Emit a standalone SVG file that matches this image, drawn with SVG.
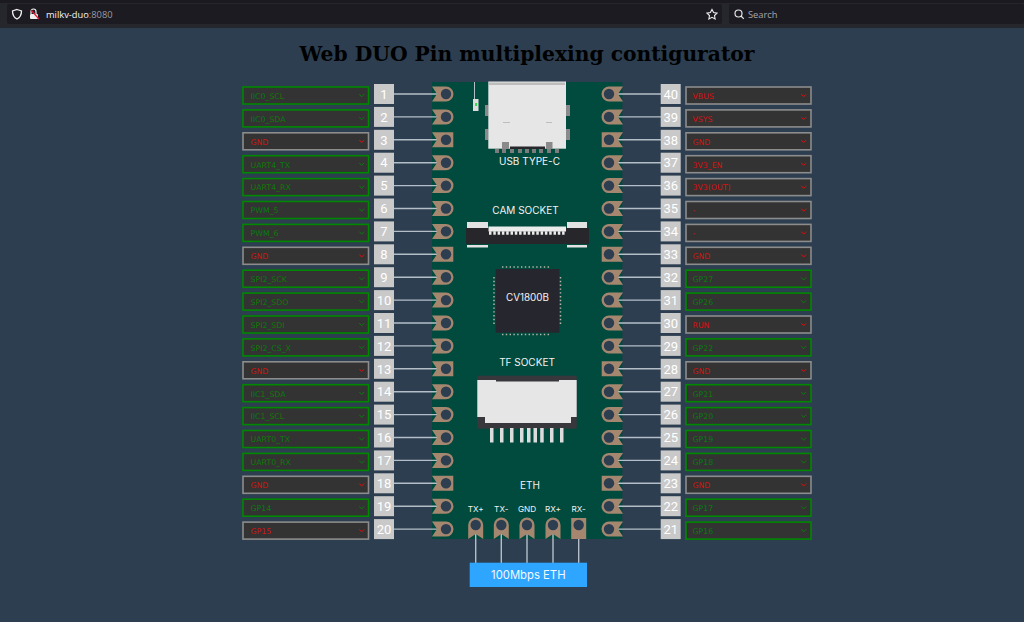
<svg xmlns="http://www.w3.org/2000/svg" width="1024" height="622" viewBox="0 0 1024 622">
<style>
text{font-family:"Inter","Liberation Sans",sans-serif}
.sel{fill:#333;stroke-width:1.6}
.ok{color:#0b7a0b}.ok .sel{stroke:#008800}
.bad{color:#dc0f0f}.bad .sel{stroke:#8c8c8c}
.st{font-family:"DejaVu Sans",sans-serif;font-size:7.8px;fill:currentColor}
.ch{fill:none;stroke:currentColor;stroke-width:1}
.num{fill:#c9c9c9}
.nt{font-family:"Roboto",sans-serif;font-size:13px;fill:#fff;text-anchor:middle}
.pad{fill:#a5866f}
.hole{fill:#2c3e50}
.lb{font-size:10px;fill:#f2f2f2;text-anchor:middle}
.sm{font-size:8.2px;fill:#f2f2f2;text-anchor:middle}
.w{stroke:#b4bec8;stroke-width:1.4;fill:none}
.gr{fill:#8a8a8a}
.dot{fill:none;stroke:#b9b6a8;stroke-width:1.5;stroke-dasharray:1.4 2.4}
.ui{font-family:"Open Sans",sans-serif;font-size:9.3px}
</style>
<defs>
<g id="L"><path class="pad" d="M432-7.500H446A7.500 7.500 0 0 1 446 7.500H432L437 0Z"/><circle class="hole" cx="446" r="5.200"/></g>
<g id="LS"><path class="pad" d="M432-7.500H453.300V7.500H432L437 0Z"/><circle class="hole" cx="446" r="5.200"/></g>
<g id="B"><path class="pad" d="M-7.500 539V525A7.500 7.500 0 0 1 7.500 525V539L0 534Z"/><circle class="hole" cy="525" r="5.200"/></g>
<path id="c" class="ch" d="M-2.400-1.300 0 1.300 2.400-1.300"/>
</defs>
<rect width="1024" height="622" fill="#2c3e50"/>
<g id="browser-bar">
<rect width="1024" height="28" fill="#26262d"/>
<rect width="1024" height="3" fill="#1a1a20"/>
<rect x="7" y="4" width="715" height="20" rx="2" fill="#1c1b22"/>
<rect x="729" y="4" width="295" height="20" rx="2" fill="#1c1b22"/>
<path d="M17 9.500 21.500 11C21.500 15 20 17.500 17 19 14 17.500 12.500 15 12.500 11Z" fill="none" stroke="#f0f0f0" stroke-width="1.300"/>
<path d="M31 14V11.500A2.500 2.500 0 0 1 36 11.500V14" fill="none" stroke="#f0f0f0" stroke-width="1.200"/>
<rect x="30" y="14" width="8" height="5" rx="1" fill="#f0f0f0"/>
<path d="M31 10 39 19" stroke="#e01b3c" stroke-width="1.300"/>
<text class="ui" x="46" y="18" fill="#f4f4f4">milkv-duo<tspan fill="#9a9aa2">:8080</tspan></text>
<path d="M712 9.500 713.600 12.600 717 13.100 714.500 15.500 715.100 18.900 712 17.300 708.900 18.900 709.500 15.500 707 13.100 710.400 12.600Z" fill="none" stroke="#f0f0f0" stroke-width="1.100"/>
<circle cx="738.500" cy="13.500" r="3.500" fill="none" stroke="#e6e6e6" stroke-width="1.200"/>
<path d="M741 16 743.800 18.800" stroke="#e6e6e6" stroke-width="1.200"/>
<text class="ui" x="748" y="18" fill="#a6a6ae">Search</text>
</g>
<text id="title" x="527" y="61" text-anchor="middle" style="font-family:'DejaVu Serif',serif;font-weight:700;font-size:20.260px" fill="#000">Web DUO Pin multiplexing contigurator</text>
<rect id="board" x="432" y="82" width="190.300" height="457" fill="#004a3e"/>
<g id="connectors" class="w">
<path d="M394 94H437M394 116.900H437M394 139.800H437M394 162.700H437M394 185.600H437M394 208.500H437M394 231.400H437M394 254.300H437M394 277.200H437M394 300.100H437M394 323H437M394 345.900H437M394 368.800H437M394 391.700H437M394 414.600H437M394 437.500H437M394 460.400H437M394 483.300H437M394 506.200H437M394 529.100H437"/>
<path d="M618 94H661M618 116.900H661M618 139.800H661M618 162.700H661M618 185.600H661M618 208.500H661M618 231.400H661M618 254.300H661M618 277.200H661M618 300.100H661M618 323H661M618 345.900H661M618 368.800H661M618 391.700H661M618 414.600H661M618 437.500H661M618 460.400H661M618 483.300H661M618 506.200H661M618 529.100H661"/>
<path d="M475.700 534V563M501.300 534V563M527 534V563M553 534V563M578.700 534V563"/>
<path d="M474.500 82V99" stroke-width="1"/>
</g>
<g id="usb-c">
<rect x="473" y="99" width="5.500" height="12" fill="#dcdcdc"/><rect x="475" y="103" width="2" height="3" fill="#2fe04a"/>
<rect x="485" y="105" width="3.500" height="11" class="gr"/><rect x="485" y="129" width="3.500" height="11" class="gr"/><rect x="566" y="105" width="4" height="11" class="gr"/><rect x="566" y="129" width="4" height="11" class="gr"/>
<path d="M495 149h4v4h-4zM502 149h4v4h-4zM510 149h4v4h-4zM518 149h4v4h-4zM525 149h4v4h-4zM532 149h4v4h-4zM539 149h4v4h-4zM547 149h4v4h-4zM555 149h4v4h-4z" fill="#7c7c7c"/>
<rect x="488.300" y="81.500" width="77.700" height="67.200" fill="#e6e6e6"/>
<rect x="489" y="82.500" width="76" height="2.500" fill="#bdbdbd"/>
<rect x="503" y="122" width="7" height="1" fill="#bdbdbd"/><rect x="546" y="122" width="6" height="1" fill="#bdbdbd"/>
<rect x="502" y="142" width="7" height="7" class="gr"/><rect x="546" y="142" width="6.500" height="7" class="gr"/>
<rect x="510" y="146.500" width="35" height="2.500" fill="#26262b"/>
<text class="lb" x="529.500" y="165">USB TYPE-C</text>
</g>
<g id="cam-socket">
<text class="lb" x="525.500" y="214">CAM SOCKET</text>
<rect x="466" y="228" width="123" height="16" fill="#26262b"/>
<path d="M467 222h21v6h-21zM567 222h20v6h-20zM467 245h21v2.500h-21zM567 245h20v2.500h-20z" fill="#e2e2e2"/>
<rect x="488.500" y="226.500" width="77.500" height="5" fill="#ececec"/>
<path d="M489 233H566" stroke="#ececec" stroke-width="3.500" stroke-dasharray="2.500 1.800"/>
</g>
<g id="chip">
<rect x="495.700" y="269" width="63.600" height="63.700" fill="#26262e"/>
<path class="dot" d="M502 267H551M502 334.500H551M494 277V324M560.500 277V324"/>
<text x="527.500" y="300.700" text-anchor="middle" font-size="9.900" fill="#f2f2f2">CV1800B</text>
</g>
<g id="tf-socket">
<text class="lb" x="527" y="365.700">TF SOCKET</text>
<rect x="477.300" y="375.700" width="99.400" height="53" fill="#38383c"/>
<path d="M477.300 380H496V381.500H559V380H576.700V417H571V423H485V417H477.300Z" fill="#e6e6e6"/>
<path d="M490 428h3.500v14.500h-3.500zM500 428h3.500v14.500h-3.500zM510 428h3.500v14.500h-3.500zM520 428h3.500v14.500h-3.500zM527 428h3.500v14.500h-3.500zM533.500 428h3.500v14.500h-3.500zM540.200 428h3.500v14.500h-3.500zM550 428h3.500v14.500h-3.500zM560 428h3.500v14.500h-3.500z" fill="#dcdcdc"/>
</g>
<text id="eth-label" class="lb" x="530" y="489">ETH</text>
<g id="eth-tx-p"><text class="sm" x="475.700" y="511.700">TX+</text><use href="#B" x="475.700"/></g>
<g id="eth-tx-n"><text class="sm" x="501.300" y="511.700">TX-</text><use href="#B" x="501.300"/></g>
<g id="eth-gnd"><text class="sm" x="527" y="511.700">GND</text><use href="#B" x="527"/></g>
<g id="eth-rx-p"><text class="sm" x="553" y="511.700">RX+</text><use href="#B" x="553"/></g>
<g id="eth-rx-n"><text class="sm" x="578.700" y="511.700">RX-</text><rect class="pad" x="571.200" y="518" width="15" height="21"/><circle class="hole" cx="578.700" cy="525" r="5.200"/></g>
<g id="eth-button"><rect x="469.700" y="562.700" width="117.300" height="24.300" fill="#2ea6ff"/><text x="528.300" y="579.300" text-anchor="middle" font-size="11.300" fill="#f4f8ff">100Mbps ETH</text></g>

<g id="pin-1" class="ok" transform="translate(0 94)"><rect class="sel" x="243" y="-7" width="125.500" height="17"/><text class="st" x="250.500" y="4.800">IIC0_SCL</text><use href="#c" x="361.700" y="1.500"/><rect class="num" x="374" y="-10" width="20" height="20"/><text class="nt" x="384" y="4.700">1</text><use href="#L"/></g>
<g id="pin-2" class="ok" transform="translate(0 116.900)"><rect class="sel" x="243" y="-7" width="125.500" height="17"/><text class="st" x="250.500" y="4.800">IIC0_SDA</text><use href="#c" x="361.700" y="1.500"/><rect class="num" x="374" y="-10" width="20" height="20"/><text class="nt" x="384" y="4.700">2</text><use href="#L"/></g>
<g id="pin-3" class="bad" transform="translate(0 139.800)"><rect class="sel" x="243" y="-7" width="125.500" height="17"/><text class="st" x="250.500" y="4.800">GND</text><use href="#c" x="361.700" y="1.500"/><rect class="num" x="374" y="-10" width="20" height="20"/><text class="nt" x="384" y="4.700">3</text><use href="#LS"/></g>
<g id="pin-4" class="ok" transform="translate(0 162.700)"><rect class="sel" x="243" y="-7" width="125.500" height="17"/><text class="st" x="250.500" y="4.800">UART4_TX</text><use href="#c" x="361.700" y="1.500"/><rect class="num" x="374" y="-10" width="20" height="20"/><text class="nt" x="384" y="4.700">4</text><use href="#L"/></g>
<g id="pin-5" class="ok" transform="translate(0 185.600)"><rect class="sel" x="243" y="-7" width="125.500" height="17"/><text class="st" x="250.500" y="4.800">UART4_RX</text><use href="#c" x="361.700" y="1.500"/><rect class="num" x="374" y="-10" width="20" height="20"/><text class="nt" x="384" y="4.700">5</text><use href="#L"/></g>
<g id="pin-6" class="ok" transform="translate(0 208.500)"><rect class="sel" x="243" y="-7" width="125.500" height="17"/><text class="st" x="250.500" y="4.800">PWM_5</text><use href="#c" x="361.700" y="1.500"/><rect class="num" x="374" y="-10" width="20" height="20"/><text class="nt" x="384" y="4.700">6</text><use href="#L"/></g>
<g id="pin-7" class="ok" transform="translate(0 231.400)"><rect class="sel" x="243" y="-7" width="125.500" height="17"/><text class="st" x="250.500" y="4.800">PWM_6</text><use href="#c" x="361.700" y="1.500"/><rect class="num" x="374" y="-10" width="20" height="20"/><text class="nt" x="384" y="4.700">7</text><use href="#L"/></g>
<g id="pin-8" class="bad" transform="translate(0 254.300)"><rect class="sel" x="243" y="-7" width="125.500" height="17"/><text class="st" x="250.500" y="4.800">GND</text><use href="#c" x="361.700" y="1.500"/><rect class="num" x="374" y="-10" width="20" height="20"/><text class="nt" x="384" y="4.700">8</text><use href="#LS"/></g>
<g id="pin-9" class="ok" transform="translate(0 277.200)"><rect class="sel" x="243" y="-7" width="125.500" height="17"/><text class="st" x="250.500" y="4.800">SPI2_SCK</text><use href="#c" x="361.700" y="1.500"/><rect class="num" x="374" y="-10" width="20" height="20"/><text class="nt" x="384" y="4.700">9</text><use href="#L"/></g>
<g id="pin-10" class="ok" transform="translate(0 300.100)"><rect class="sel" x="243" y="-7" width="125.500" height="17"/><text class="st" x="250.500" y="4.800">SPI2_SDO</text><use href="#c" x="361.700" y="1.500"/><rect class="num" x="374" y="-10" width="20" height="20"/><text class="nt" x="384" y="4.700">10</text><use href="#L"/></g>
<g id="pin-11" class="ok" transform="translate(0 323)"><rect class="sel" x="243" y="-7" width="125.500" height="17"/><text class="st" x="250.500" y="4.800">SPI2_SDI</text><use href="#c" x="361.700" y="1.500"/><rect class="num" x="374" y="-10" width="20" height="20"/><text class="nt" x="384" y="4.700">11</text><use href="#L"/></g>
<g id="pin-12" class="ok" transform="translate(0 345.900)"><rect class="sel" x="243" y="-7" width="125.500" height="17"/><text class="st" x="250.500" y="4.800">SPI2_CS_X</text><use href="#c" x="361.700" y="1.500"/><rect class="num" x="374" y="-10" width="20" height="20"/><text class="nt" x="384" y="4.700">12</text><use href="#L"/></g>
<g id="pin-13" class="bad" transform="translate(0 368.800)"><rect class="sel" x="243" y="-7" width="125.500" height="17"/><text class="st" x="250.500" y="4.800">GND</text><use href="#c" x="361.700" y="1.500"/><rect class="num" x="374" y="-10" width="20" height="20"/><text class="nt" x="384" y="4.700">13</text><use href="#LS"/></g>
<g id="pin-14" class="ok" transform="translate(0 391.700)"><rect class="sel" x="243" y="-7" width="125.500" height="17"/><text class="st" x="250.500" y="4.800">IIC1_SDA</text><use href="#c" x="361.700" y="1.500"/><rect class="num" x="374" y="-10" width="20" height="20"/><text class="nt" x="384" y="4.700">14</text><use href="#L"/></g>
<g id="pin-15" class="ok" transform="translate(0 414.600)"><rect class="sel" x="243" y="-7" width="125.500" height="17"/><text class="st" x="250.500" y="4.800">IIC1_SCL</text><use href="#c" x="361.700" y="1.500"/><rect class="num" x="374" y="-10" width="20" height="20"/><text class="nt" x="384" y="4.700">15</text><use href="#L"/></g>
<g id="pin-16" class="ok" transform="translate(0 437.500)"><rect class="sel" x="243" y="-7" width="125.500" height="17"/><text class="st" x="250.500" y="4.800">UART0_TX</text><use href="#c" x="361.700" y="1.500"/><rect class="num" x="374" y="-10" width="20" height="20"/><text class="nt" x="384" y="4.700">16</text><use href="#L"/></g>
<g id="pin-17" class="ok" transform="translate(0 460.400)"><rect class="sel" x="243" y="-7" width="125.500" height="17"/><text class="st" x="250.500" y="4.800">UART0_RX</text><use href="#c" x="361.700" y="1.500"/><rect class="num" x="374" y="-10" width="20" height="20"/><text class="nt" x="384" y="4.700">17</text><use href="#L"/></g>
<g id="pin-18" class="bad" transform="translate(0 483.300)"><rect class="sel" x="243" y="-7" width="125.500" height="17"/><text class="st" x="250.500" y="4.800">GND</text><use href="#c" x="361.700" y="1.500"/><rect class="num" x="374" y="-10" width="20" height="20"/><text class="nt" x="384" y="4.700">18</text><use href="#LS"/></g>
<g id="pin-19" class="ok" transform="translate(0 506.200)"><rect class="sel" x="243" y="-7" width="125.500" height="17"/><text class="st" x="250.500" y="4.800">GP14</text><use href="#c" x="361.700" y="1.500"/><rect class="num" x="374" y="-10" width="20" height="20"/><text class="nt" x="384" y="4.700">19</text><use href="#L"/></g>
<g id="pin-20" class="bad" transform="translate(0 529.100)"><rect class="sel" x="243" y="-7" width="125.500" height="17"/><text class="st" x="250.500" y="4.800">GP15</text><use href="#c" x="361.700" y="1.500"/><rect class="num" x="374" y="-10" width="20" height="20"/><text class="nt" x="384" y="4.700">20</text><use href="#L"/></g>

<g id="pin-40" class="bad" transform="translate(0 94)"><rect class="sel" x="686" y="-7" width="125" height="17"/><text class="st" x="692.500" y="4.800">VBUS</text><use href="#c" x="803.700" y="1.500"/><rect class="num" x="660.700" y="-10" width="20" height="20"/><text class="nt" x="670.700" y="4.700">40</text><use href="#L" transform="matrix(-1 0 0 1 1055 0)"/></g>
<g id="pin-39" class="bad" transform="translate(0 116.900)"><rect class="sel" x="686" y="-7" width="125" height="17"/><text class="st" x="692.500" y="4.800">VSYS</text><use href="#c" x="803.700" y="1.500"/><rect class="num" x="660.700" y="-10" width="20" height="20"/><text class="nt" x="670.700" y="4.700">39</text><use href="#L" transform="matrix(-1 0 0 1 1055 0)"/></g>
<g id="pin-38" class="bad" transform="translate(0 139.800)"><rect class="sel" x="686" y="-7" width="125" height="17"/><text class="st" x="692.500" y="4.800">GND</text><use href="#c" x="803.700" y="1.500"/><rect class="num" x="660.700" y="-10" width="20" height="20"/><text class="nt" x="670.700" y="4.700">38</text><use href="#LS" transform="matrix(-1 0 0 1 1055 0)"/></g>
<g id="pin-37" class="bad" transform="translate(0 162.700)"><rect class="sel" x="686" y="-7" width="125" height="17"/><text class="st" x="692.500" y="4.800">3V3_EN</text><use href="#c" x="803.700" y="1.500"/><rect class="num" x="660.700" y="-10" width="20" height="20"/><text class="nt" x="670.700" y="4.700">37</text><use href="#L" transform="matrix(-1 0 0 1 1055 0)"/></g>
<g id="pin-36" class="bad" transform="translate(0 185.600)"><rect class="sel" x="686" y="-7" width="125" height="17"/><text class="st" x="692.500" y="4.800">3V3(OUT)</text><use href="#c" x="803.700" y="1.500"/><rect class="num" x="660.700" y="-10" width="20" height="20"/><text class="nt" x="670.700" y="4.700">36</text><use href="#L" transform="matrix(-1 0 0 1 1055 0)"/></g>
<g id="pin-35" class="bad" transform="translate(0 208.500)"><rect class="sel" x="686" y="-7" width="125" height="17"/><text class="st" x="692.500" y="4.800">-</text><use href="#c" x="803.700" y="1.500"/><rect class="num" x="660.700" y="-10" width="20" height="20"/><text class="nt" x="670.700" y="4.700">35</text><use href="#L" transform="matrix(-1 0 0 1 1055 0)"/></g>
<g id="pin-34" class="bad" transform="translate(0 231.400)"><rect class="sel" x="686" y="-7" width="125" height="17"/><text class="st" x="692.500" y="4.800">-</text><use href="#c" x="803.700" y="1.500"/><rect class="num" x="660.700" y="-10" width="20" height="20"/><text class="nt" x="670.700" y="4.700">34</text><use href="#L" transform="matrix(-1 0 0 1 1055 0)"/></g>
<g id="pin-33" class="bad" transform="translate(0 254.300)"><rect class="sel" x="686" y="-7" width="125" height="17"/><text class="st" x="692.500" y="4.800">GND</text><use href="#c" x="803.700" y="1.500"/><rect class="num" x="660.700" y="-10" width="20" height="20"/><text class="nt" x="670.700" y="4.700">33</text><use href="#LS" transform="matrix(-1 0 0 1 1055 0)"/></g>
<g id="pin-32" class="ok" transform="translate(0 277.200)"><rect class="sel" x="686" y="-7" width="125" height="17"/><text class="st" x="692.500" y="4.800">GP27</text><use href="#c" x="803.700" y="1.500"/><rect class="num" x="660.700" y="-10" width="20" height="20"/><text class="nt" x="670.700" y="4.700">32</text><use href="#L" transform="matrix(-1 0 0 1 1055 0)"/></g>
<g id="pin-31" class="ok" transform="translate(0 300.100)"><rect class="sel" x="686" y="-7" width="125" height="17"/><text class="st" x="692.500" y="4.800">GP26</text><use href="#c" x="803.700" y="1.500"/><rect class="num" x="660.700" y="-10" width="20" height="20"/><text class="nt" x="670.700" y="4.700">31</text><use href="#L" transform="matrix(-1 0 0 1 1055 0)"/></g>
<g id="pin-30" class="bad" transform="translate(0 323)"><rect class="sel" x="686" y="-7" width="125" height="17"/><text class="st" x="692.500" y="4.800">RUN</text><use href="#c" x="803.700" y="1.500"/><rect class="num" x="660.700" y="-10" width="20" height="20"/><text class="nt" x="670.700" y="4.700">30</text><use href="#L" transform="matrix(-1 0 0 1 1055 0)"/></g>
<g id="pin-29" class="ok" transform="translate(0 345.900)"><rect class="sel" x="686" y="-7" width="125" height="17"/><text class="st" x="692.500" y="4.800">GP22</text><use href="#c" x="803.700" y="1.500"/><rect class="num" x="660.700" y="-10" width="20" height="20"/><text class="nt" x="670.700" y="4.700">29</text><use href="#L" transform="matrix(-1 0 0 1 1055 0)"/></g>
<g id="pin-28" class="bad" transform="translate(0 368.800)"><rect class="sel" x="686" y="-7" width="125" height="17"/><text class="st" x="692.500" y="4.800">GND</text><use href="#c" x="803.700" y="1.500"/><rect class="num" x="660.700" y="-10" width="20" height="20"/><text class="nt" x="670.700" y="4.700">28</text><use href="#LS" transform="matrix(-1 0 0 1 1055 0)"/></g>
<g id="pin-27" class="ok" transform="translate(0 391.700)"><rect class="sel" x="686" y="-7" width="125" height="17"/><text class="st" x="692.500" y="4.800">GP21</text><use href="#c" x="803.700" y="1.500"/><rect class="num" x="660.700" y="-10" width="20" height="20"/><text class="nt" x="670.700" y="4.700">27</text><use href="#L" transform="matrix(-1 0 0 1 1055 0)"/></g>
<g id="pin-26" class="ok" transform="translate(0 414.600)"><rect class="sel" x="686" y="-7" width="125" height="17"/><text class="st" x="692.500" y="4.800">GP20</text><use href="#c" x="803.700" y="1.500"/><rect class="num" x="660.700" y="-10" width="20" height="20"/><text class="nt" x="670.700" y="4.700">26</text><use href="#L" transform="matrix(-1 0 0 1 1055 0)"/></g>
<g id="pin-25" class="ok" transform="translate(0 437.500)"><rect class="sel" x="686" y="-7" width="125" height="17"/><text class="st" x="692.500" y="4.800">GP19</text><use href="#c" x="803.700" y="1.500"/><rect class="num" x="660.700" y="-10" width="20" height="20"/><text class="nt" x="670.700" y="4.700">25</text><use href="#L" transform="matrix(-1 0 0 1 1055 0)"/></g>
<g id="pin-24" class="ok" transform="translate(0 460.400)"><rect class="sel" x="686" y="-7" width="125" height="17"/><text class="st" x="692.500" y="4.800">GP18</text><use href="#c" x="803.700" y="1.500"/><rect class="num" x="660.700" y="-10" width="20" height="20"/><text class="nt" x="670.700" y="4.700">24</text><use href="#L" transform="matrix(-1 0 0 1 1055 0)"/></g>
<g id="pin-23" class="bad" transform="translate(0 483.300)"><rect class="sel" x="686" y="-7" width="125" height="17"/><text class="st" x="692.500" y="4.800">GND</text><use href="#c" x="803.700" y="1.500"/><rect class="num" x="660.700" y="-10" width="20" height="20"/><text class="nt" x="670.700" y="4.700">23</text><use href="#LS" transform="matrix(-1 0 0 1 1055 0)"/></g>
<g id="pin-22" class="ok" transform="translate(0 506.200)"><rect class="sel" x="686" y="-7" width="125" height="17"/><text class="st" x="692.500" y="4.800">GP17</text><use href="#c" x="803.700" y="1.500"/><rect class="num" x="660.700" y="-10" width="20" height="20"/><text class="nt" x="670.700" y="4.700">22</text><use href="#L" transform="matrix(-1 0 0 1 1055 0)"/></g>
<g id="pin-21" class="ok" transform="translate(0 529.100)"><rect class="sel" x="686" y="-7" width="125" height="17"/><text class="st" x="692.500" y="4.800">GP16</text><use href="#c" x="803.700" y="1.500"/><rect class="num" x="660.700" y="-10" width="20" height="20"/><text class="nt" x="670.700" y="4.700">21</text><use href="#L" transform="matrix(-1 0 0 1 1055 0)"/></g>
</svg>
